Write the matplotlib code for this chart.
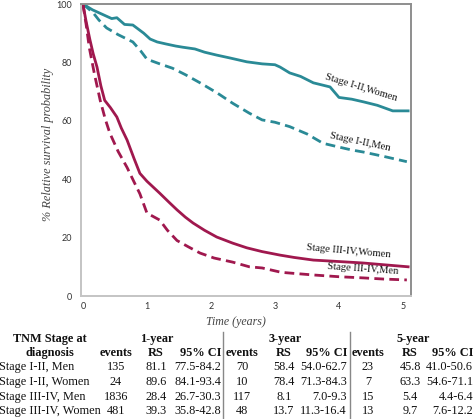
"""Relative survival curves by TNM stage and sex, with summary table below."""

import matplotlib.pyplot as plt

# curve data (years, % relative survival)
t_women_12 = [0, 0.15, 0.3, 0.45, 0.53, 0.65, 0.78, 0.95, 1.05, 1.16, 1.3, 1.45, 1.56, 1.75,
              1.9, 2.09, 2.3, 2.56, 2.8, 3.0, 3.08, 3.23, 3.4, 3.6, 3.86, 4.0, 4.2, 4.38,
              4.6, 4.84, 5.08]
s_women_12 = [100, 98, 96.5, 95, 95.3, 93, 92.8, 90, 88, 87, 86.3, 85.6, 85.2, 84.6, 83.5,
              82.5, 81.5, 80.2, 79.5, 79.2, 78.4, 76.4, 75.2, 73, 71.6, 68, 67.4, 66.5,
              65.3, 63.4, 63.4]

t_men_12 = [0, 0.08, 0.16, 0.25, 0.37, 0.55, 0.78, 0.9, 1.0, 1.2, 1.4, 1.6, 1.83, 2.1,
            2.34, 2.6, 2.8, 3.0, 3.23, 3.5, 3.75, 4.0, 4.2, 4.38, 4.7, 5.06]
s_men_12 = [100, 98.5, 97, 94.5, 91.8, 89.5, 87, 84, 81.1, 79.5, 78, 75.8, 73, 69.5, 66,
            62.6, 60.3, 59.5, 58, 55.5, 52.3, 51, 50, 49.3, 47.8, 46]

t_women_34 = [0, 0.05, 0.11, 0.16, 0.22, 0.28, 0.34, 0.43, 0.53, 0.6, 0.69, 0.8, 0.89, 1.0,
              1.2, 1.35, 1.47, 1.6, 1.72, 1.9, 2.09, 2.34, 2.56, 2.8, 3.08, 3.3, 3.6, 4.0,
              4.38, 4.7, 5.08]
s_women_34 = [100, 94, 87.7, 83, 78.4, 72, 67, 64.5, 61.3, 57.5, 53.4, 47, 42, 39.3, 35.2,
              32, 29.5, 27, 25, 22.5, 20.2, 18.1, 16.5, 15.2, 14, 13.2, 12.3, 11.8,
              11.3, 10.7, 10.0]

t_men_34 = [0, 0.05, 0.1, 0.18, 0.27, 0.35, 0.42, 0.55, 0.69, 0.8, 0.89, 1.0, 1.2, 1.32,
            1.47, 1.65, 1.83, 2.05, 2.34, 2.6, 2.8, 3.1, 3.6, 4.0, 4.38, 4.7, 5.06]
s_men_34 = [100, 93, 85, 76, 67, 60.5, 55.8, 49.5, 44, 39, 35, 28.4, 26, 22.5, 19, 16.8,
            14.7, 13, 11.6, 10, 9.6, 8.1, 7.2, 6.6, 6.2, 5.8, 5.5]

x_ticks = [0, 1, 2, 3, 4, 5]
y_ticks = [0, 20, 40, 60, 80, 100]

# summary table
row_labels = ["Stage I-II, Men", "Stage I-II, Women", "Stage III-IV, Men", "Stage III-IV, Women"]
periods = ["1-year", "3-year", "5-year"]
events = [["135", "24", "1836", "481"],
          ["70", "10", "117", "48"],
          ["23", "7", "15", "13"]]
rs = [["81.1", "89.6", "28.4", "39.3"],
      ["58.4", "78.4", "8.1", "13.7"],
      ["45.8", "63.3", "5.4", "9.7"]]
ci = [["77.5-84.2", "84.1-93.4", "26.7-30.3", "35.8-42.8"],
      ["54.0-62.7", "71.3-84.3", "7.0-9.3", "11.3-16.4"],
      ["41.0-50.6", "54.6-71.1", "4.4-6.4", "7.6-12.2"]]

TEAL = "#2a8a96"
MAGENTA = "#a0184e"
SERIF = "Liberation Serif"

W, H = 474, 419
fig = plt.figure(figsize=(W / 100, H / 100), dpi=100)
ax = fig.add_axes([81 / W, 1 - 296 / H, 330 / W, 292 / H])

dash = (0, (3.5, 1.9))
ax.plot(t_women_12, s_women_12, color=TEAL, lw=2.0, solid_joinstyle="round")
ax.plot(t_men_12, s_men_12, color=TEAL, lw=2.0, ls=dash)
ax.plot(t_women_34, s_women_34, color=MAGENTA, lw=2.0, solid_joinstyle="round")
ax.plot(t_men_34, s_men_34, color=MAGENTA, lw=2.0, ls=dash)

lab = dict(fontsize=7.6, family=SERIF, ha="center", va="center", color="#111111")
ax.text(4.34, 71.4, "Stage I-II,Women", rotation=-17, **lab)
ax.text(4.33, 52.9, "Stage I-II,Men", rotation=-12, **lab)
ax.text(4.15, 15.3, "Stage III-IV,Women", rotation=-5, **lab)
ax.text(4.38, 9.4, "Stage III-IV,Men", rotation=-4, **lab)

ax.set_xlim(-0.03, 5.125)
ax.set_ylim(0, 100)
ax.set_xticks(x_ticks)
ax.set_yticks(y_ticks)
ax.tick_params(length=0, labelsize=6.5, colors="#333333")
ax.tick_params(axis="y", pad=6.5)
ax.tick_params(axis="x", pad=4.5)
for lbl in ax.get_xticklabels() + ax.get_yticklabels():
    lbl.set_family("Lato")
ax.spines["left"].set_color("#c4c4c4")
ax.spines["bottom"].set_color("#c4c4c4")
ax.spines["top"].set_color("#8e8e8e")
ax.spines["right"].set_color("#8e8e8e")
for sp in ax.spines.values():
    sp.set_linewidth(1.4)

ax.set_ylabel("% Relative survival probability", family=SERIF, style="italic",
              fontsize=8.8, color="#444444")
ax.yaxis.set_label_coords((54 - 81) / 330, 0.52)
ax.set_xlabel("Time (years)", family=SERIF, style="italic", fontsize=8.6,
              color="#444444")
ax.xaxis.set_label_coords((236 - 81) / 330, (296 - 316) / 292)


# table drawn as figure text in pixel coordinates
def put(x, y, s, ha="center", bold=False):
    fig.text(x / W, 1 - y / H, s, ha=ha, va="center", family=SERIF, fontsize=8.8,
             weight="bold" if bold else "normal", color="#111111")


put(50, 339, "TNM Stage at", bold=True)
put(50, 353, "diagnosis", bold=True)
col_events = [116, 242, 368]
col_rs = [156, 284, 410]
col_period = [157, 285, 413]
col_ci_right = [221, 347, 473]
row_y = [367, 382, 397, 411]
for k, per in enumerate(periods):
    put(col_period[k], 339, per, bold=True)
    put(col_events[k], 353, "events", bold=True)
    put(col_rs[k], 353, "RS", bold=True)
    put(col_ci_right[k], 353, "95% CI", ha="right", bold=True)
    for i in range(len(row_labels)):
        put(col_events[k], row_y[i], events[k][i])
        put(col_rs[k], row_y[i], rs[k][i])
        put(col_ci_right[k], row_y[i], ci[k][i], ha="right")
for i, name in enumerate(row_labels):
    put(-1, row_y[i], name, ha="left")

for xs in (222.5, 349.5):
    fig.add_artist(plt.Line2D([xs / W, xs / W], [1 - 332 / H, 0], color="#888888", lw=1.0))

fig.savefig("out.png", dpi=100)
